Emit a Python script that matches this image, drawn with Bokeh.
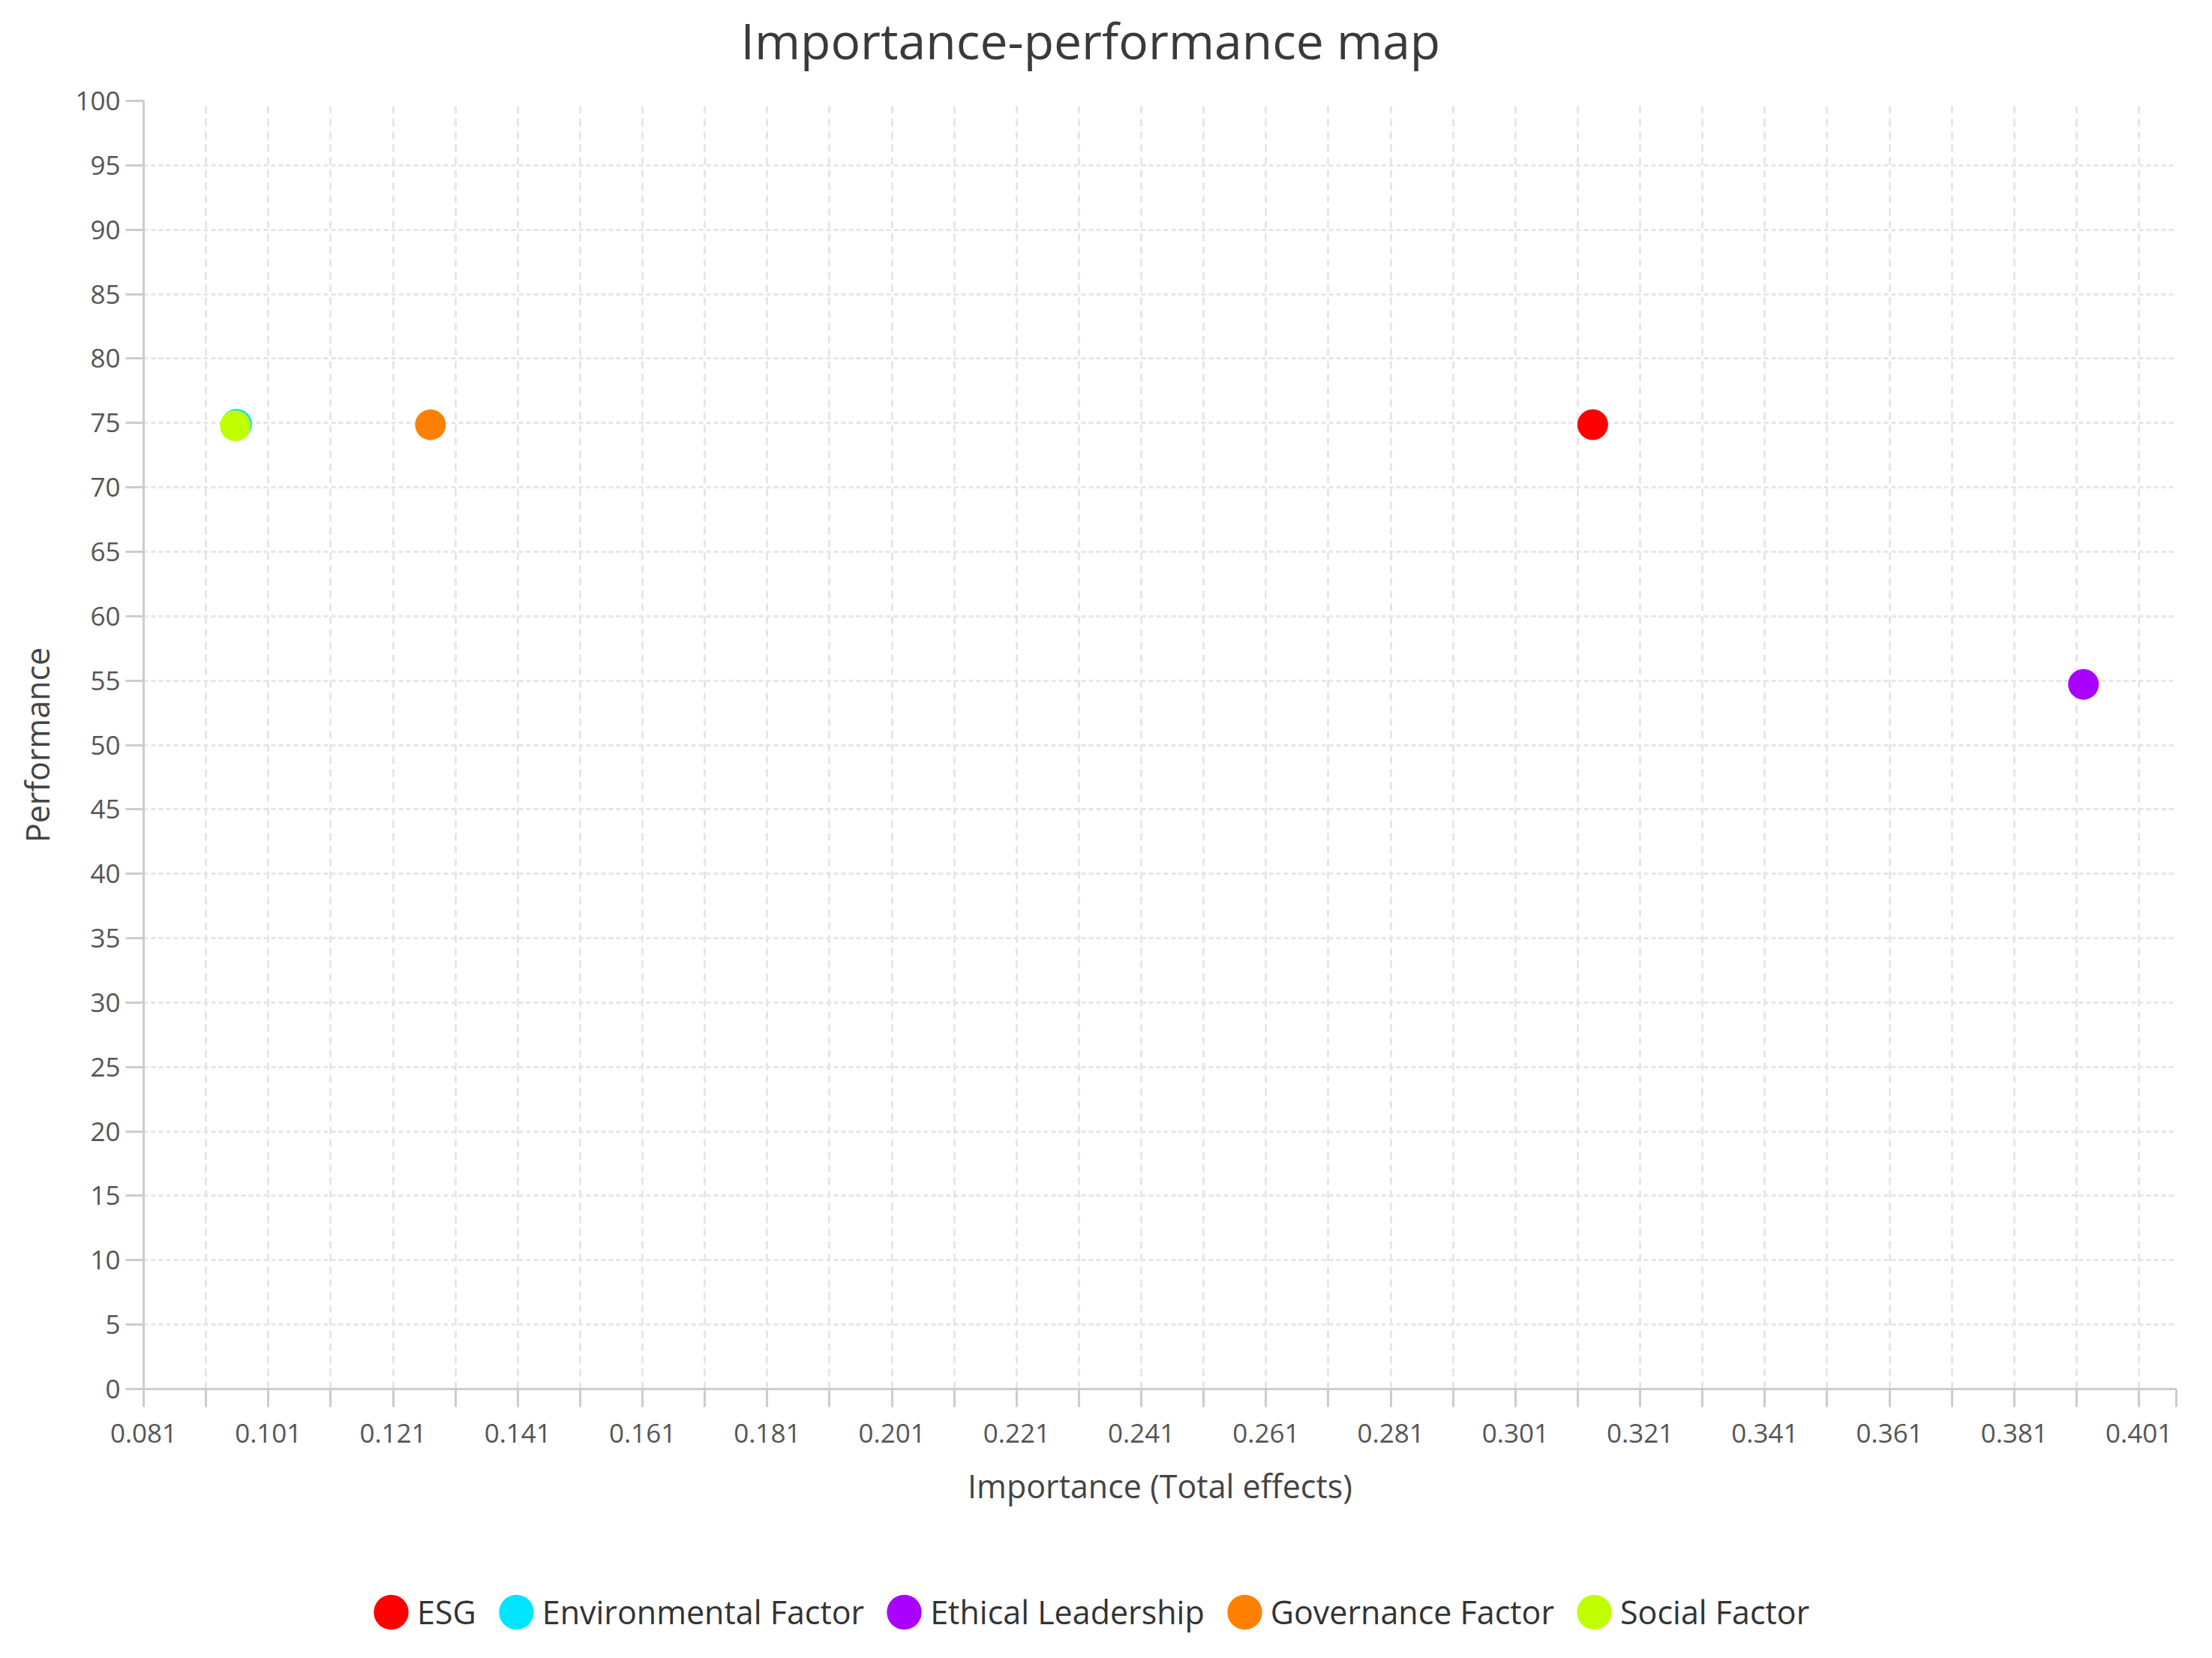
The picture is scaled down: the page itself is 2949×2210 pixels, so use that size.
from bokeh.plotting import figure
from bokeh.layouts import column
from bokeh.models import (Range1d, FixedTicker, NumeralTickFormatter, Legend, LegendItem)
from bokeh.embed import file_html
from bokeh.resources import INLINE

# ---- data ----
categories = ["ESG", "Environmental Factor", "Ethical Leadership", "Governance Factor", "Social Factor"]
importance = [0.3134, 0.0959, 0.3921, 0.1270, 0.0957]
performance = [74.87, 74.90, 54.71, 74.86, 74.78]
colors = ["#ff0000", "#00e5ff", "#aa00ff", "#ff8000", "#bfff00"]

x_major = [0.081, 0.101, 0.121, 0.141, 0.161, 0.181, 0.201, 0.221, 0.241,
           0.261, 0.281, 0.301, 0.321, 0.341, 0.361, 0.381, 0.401]
x_minor = [0.091, 0.111, 0.131, 0.151, 0.171, 0.191, 0.211, 0.231, 0.251,
           0.271, 0.291, 0.311, 0.331, 0.351, 0.371, 0.391, 0.407]
y_ticks = [0, 5, 10, 15, 20, 25, 30, 35, 40, 45, 50, 55, 60, 65, 70, 75, 80, 85, 90, 95, 100]
x_start, x_end = 0.081, 0.407
y_start, y_end = 0, 100
title_text = "Importance-performance map"
x_label = "Importance (Total effects)"
y_label = "Performance"

FONT = "Open Sans"
W = 2949
H_TITLE, H_MAIN, H_LEG = 110, 1976, 124

def bare_figure(h):
    f = figure(width=W, height=h, output_backend="svg", toolbar_location=None,
               x_axis_location=None, y_axis_location=None,
               x_range=Range1d(0, 1), y_range=Range1d(0, 1),
               min_border_left=0, min_border_right=0, min_border_top=0, min_border_bottom=0)
    f.outline_line_color = None
    f.grid.visible = False
    f.background_fill_color = "white"
    f.border_fill_color = "white"
    return f

# ---- title strip ----
pt = bare_figure(H_TITLE)
pt.title.text = title_text
pt.title.text_font = FONT
pt.title.text_font_size = "66px"
pt.title.text_font_style = "normal"
pt.title.text_color = "#3a3a3a"
pt.title.align = "left"
pt.title.offset = 796
pt.title.standoff = 11

# ---- main plot ----
p = figure(width=W, height=H_MAIN, output_backend="svg", toolbar_location=None, title=None,
           x_range=Range1d(x_start, x_end), y_range=Range1d(y_start, y_end),
           min_border_left=191, min_border_right=48, min_border_top=24,
           min_border_bottom=235)
p.outline_line_color = None
p.background_fill_color = "white"
p.border_fill_color = "white"

for ax in (p.xaxis[0], p.yaxis[0]):
    ax.axis_line_color = "#cccccc"
    ax.axis_line_width = 3
    ax.major_tick_line_color = "#cccccc"
    ax.major_tick_line_width = 3
    ax.minor_tick_line_color = "#cccccc"
    ax.minor_tick_line_width = 3
    ax.major_tick_in = 0
    ax.major_tick_out = 24
    ax.minor_tick_in = 0
    ax.minor_tick_out = 24
    ax.major_label_text_font = FONT
    ax.major_label_text_font_size = "35px"
    ax.major_label_text_color = "#555555"
    ax.axis_label_text_font = FONT
    ax.axis_label_text_font_size = "43px"
    ax.axis_label_text_font_style = "normal"
    ax.axis_label_text_color = "#444444"

p.xaxis.ticker = FixedTicker(ticks=x_major, minor_ticks=x_minor)
p.xaxis.formatter = NumeralTickFormatter(format="0.000")
p.xaxis.axis_label = x_label
p.xaxis.major_label_standoff = 22
p.xaxis.axis_label_standoff = 25

p.yaxis.ticker = FixedTicker(ticks=y_ticks, minor_ticks=[])
p.yaxis.axis_label = y_label
p.yaxis.major_label_standoff = 7
p.yaxis.axis_label_standoff = 18

p.xgrid.grid_line_color = "#e6e6e6"
p.xgrid.grid_line_width = 3
p.xgrid.grid_line_dash = "10 7"
p.xgrid.minor_grid_line_color = "#e6e6e6"
p.xgrid.minor_grid_line_width = 3
p.xgrid.minor_grid_line_dash = "10 7"
p.ygrid.grid_line_color = "#e6e6e6"
p.ygrid.grid_line_width = 3
p.ygrid.grid_line_dash = "6 4"

for name, xv, yv, c in zip(categories, importance, performance, colors):
    p.scatter(x=[xv], y=[yv], size=41, marker="circle", fill_color=c, line_color=None)

# ---- legend strip (swatch renderers lie outside this strip's y range) ----
pl = bare_figure(H_LEG)
items = []
for name, xv, yv, c in zip(categories, importance, performance, colors):
    r = pl.ellipse(x=[xv], y=[yv], width=46, height=46, width_units="screen",
                   height_units="screen", fill_color=c, line_color=None)
    items.append(LegendItem(label=name, renderers=[r]))
legend = Legend(items=items, orientation="horizontal", location="left",
                glyph_width=58, glyph_height=58, label_standoff=6, spacing=24,
                padding=0, margin=301, border_line_color=None, background_fill_alpha=0,
                label_text_font=FONT, label_text_font_size="43px", label_text_color="#333333")
pl.add_layout(legend, "center")

layout = column(pt, p, pl, spacing=0)
open("out.html", "w").write(file_html(layout, INLINE))
